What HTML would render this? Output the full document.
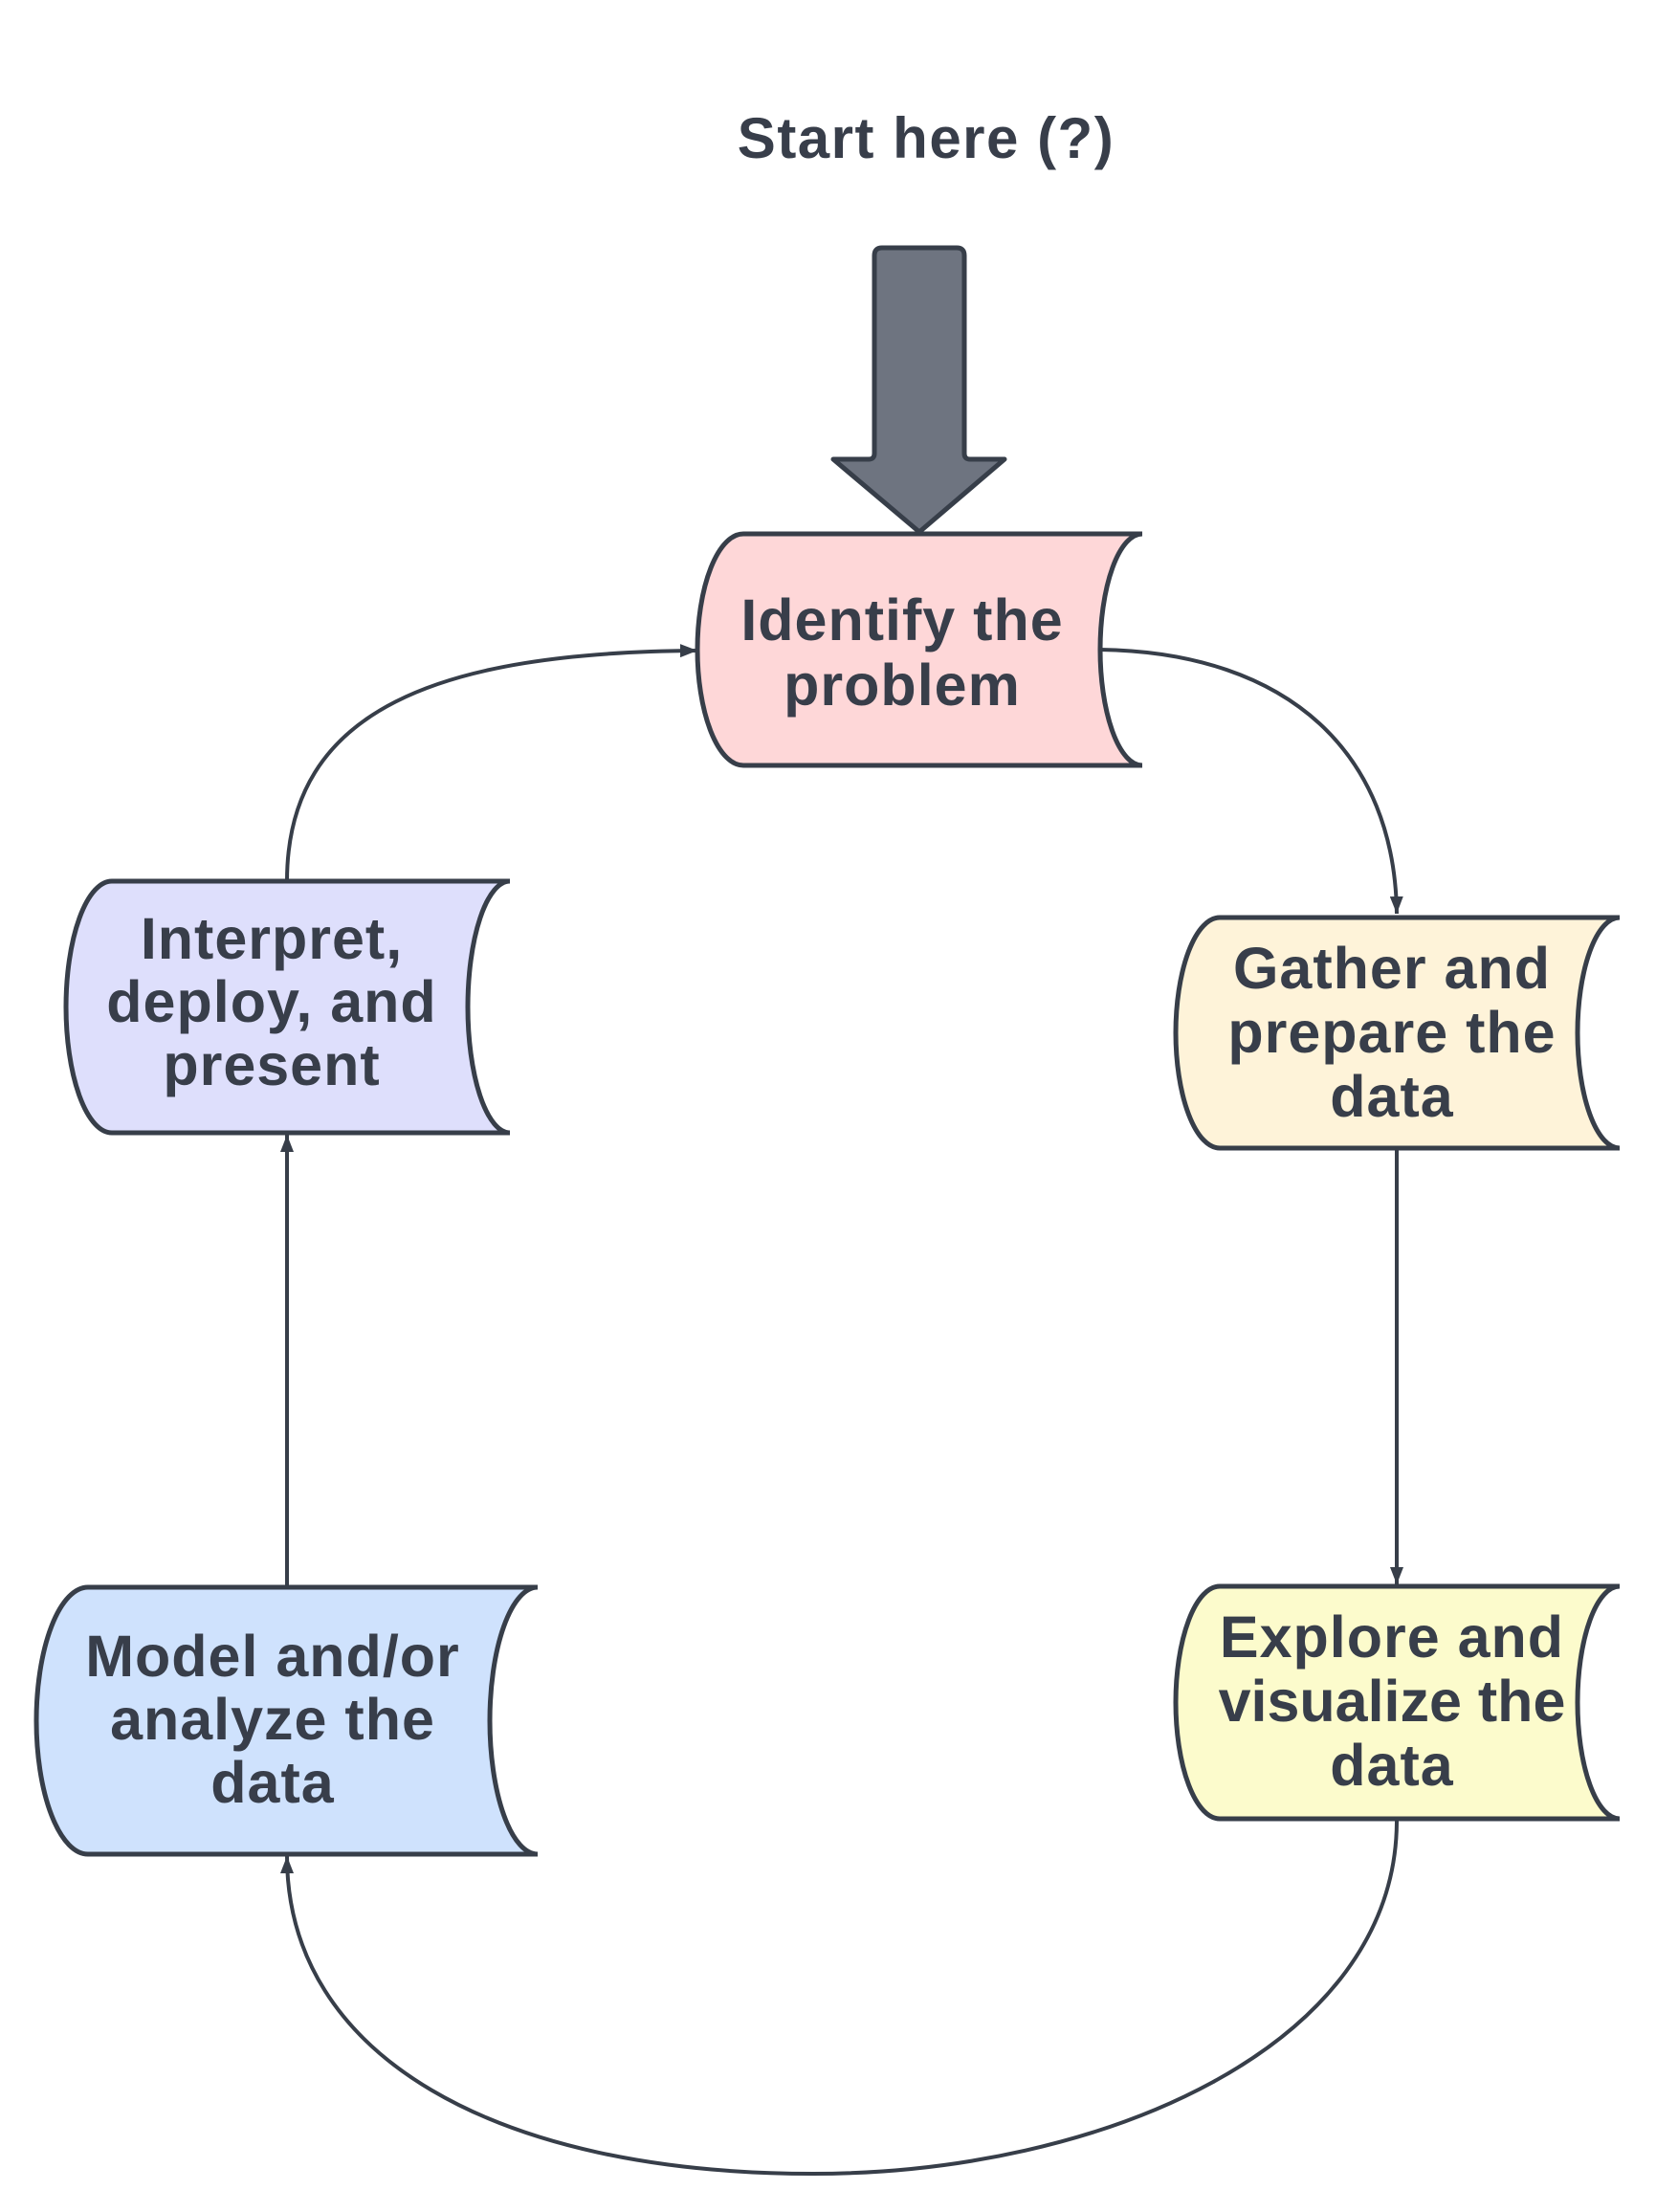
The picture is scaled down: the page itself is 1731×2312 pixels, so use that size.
<!DOCTYPE html>
<html><head><meta charset="utf-8"><style>html,body{margin:0;padding:0;background:#fff}svg{display:block}</style></head>
<body>
<svg width="1731" height="2312" viewBox="0 0 1731 2312" xmlns="http://www.w3.org/2000/svg">
<defs>
<marker id="ah" markerWidth="20" markerHeight="14" refX="18" refY="7" orient="auto" markerUnits="userSpaceOnUse">
<path d="M0,0 L18,7 L0,14 Z" fill="#373e49"/>
</marker>
</defs>
<g font-family="Liberation Sans, DejaVu Sans, sans-serif" font-weight="bold" fill="#383e4a" text-anchor="middle" letter-spacing="1.5">
<text x="968" y="165" font-size="60">Start here (?)</text>
</g>
<path d="M922,259 L1000,259 Q1008,259 1008,267 L1008,474 Q1008,480 1014,480 L1050,480 L961,556 L871,480 L908,480 Q914,480 914,474 L914,267 Q914,259 922,259 Z" fill="#6e7480" stroke="#373e49" stroke-width="5" stroke-linejoin="round"/>

<g stroke="#373e49" stroke-width="5" stroke-linejoin="round">
<path d="M777,558 L1194,558 A44,121 0 0 0 1194,800 L777,800 A48,121 0 0 1 777,558 Z" fill="#fed7d8" stroke="none"/>
<path d="M777,558 L1194,558 M1194,558 A44,121 0 0 0 1194,800 M1194,800 L777,800 A48,121 0 0 1 777,558" fill="none"/>
<path d="M117,921 L533,921 A44,131.5 0 0 0 533,1184 L117,1184 A48,131.5 0 0 1 117,921 Z" fill="#dedffc" stroke="none"/>
<path d="M117,921 L533,921 M533,921 A44,131.5 0 0 0 533,1184 M533,1184 L117,1184 A48,131.5 0 0 1 117,921" fill="none"/>
<path d="M92,1659 L562,1659 A50,139.5 0 0 0 562,1938 L92,1938 A54,139.5 0 0 1 92,1659 Z" fill="#cfe2fd" stroke="none"/>
<path d="M92,1659 L562,1659 M562,1659 A50,139.5 0 0 0 562,1938 M562,1938 L92,1938 A54,139.5 0 0 1 92,1659" fill="none"/>
<path d="M1275,959 L1693,959 A44,120.5 0 0 0 1693,1200 L1275,1200 A46,120.5 0 0 1 1275,959 Z" fill="#fef3d9" stroke="none"/>
<path d="M1275,959 L1693,959 M1693,959 A44,120.5 0 0 0 1693,1200 M1693,1200 L1275,1200 A46,120.5 0 0 1 1275,959" fill="none"/>
<path d="M1275,1658 L1693,1658 A44,121.5 0 0 0 1693,1901 L1275,1901 A46,121.5 0 0 1 1275,1658 Z" fill="#fcfbcc" stroke="none"/>
<path d="M1275,1658 L1693,1658 M1693,1658 A44,121.5 0 0 0 1693,1901 M1693,1901 L1275,1901 A46,121.5 0 0 1 1275,1658" fill="none"/>
</g>

<g stroke="#373e49" stroke-width="4" fill="none">
<path d="M1150,679 C1350,682 1458,790 1460,955" marker-end="url(#ah)"/>
<path d="M1460,1200 L1460,1656" marker-end="url(#ah)"/>
<path d="M1460,1903 C1460,2140 1150,2272 850,2272 C520,2272 300,2150 300,1940" marker-end="url(#ah)"/>
<path d="M300,1659 L300,1186" marker-end="url(#ah)"/>
<path d="M300,921 C300,740 460,682 729,680" marker-end="url(#ah)"/>
</g>

<g font-family="Liberation Sans, DejaVu Sans, sans-serif" font-weight="bold" fill="#383e4a" text-anchor="middle" font-size="61" letter-spacing="1">
<text x="943" y="669">Identify the</text>
<text x="943" y="737">problem</text>
<text x="284" y="1002">Interpret,</text>
<text x="284" y="1068">deploy, and</text>
<text x="284" y="1134">present</text>
<text x="285" y="1752">Model and/or</text>
<text x="285" y="1818">analyze the</text>
<text x="285" y="1884">data</text>
<text x="1455" y="1033">Gather and</text>
<text x="1455" y="1100">prepare the</text>
<text x="1455" y="1167">data</text>
<text x="1455" y="1732">Explore and</text>
<text x="1455" y="1799" letter-spacing="0">visualize the</text>
<text x="1455" y="1866">data</text>
</g>
</svg>
</body></html>
